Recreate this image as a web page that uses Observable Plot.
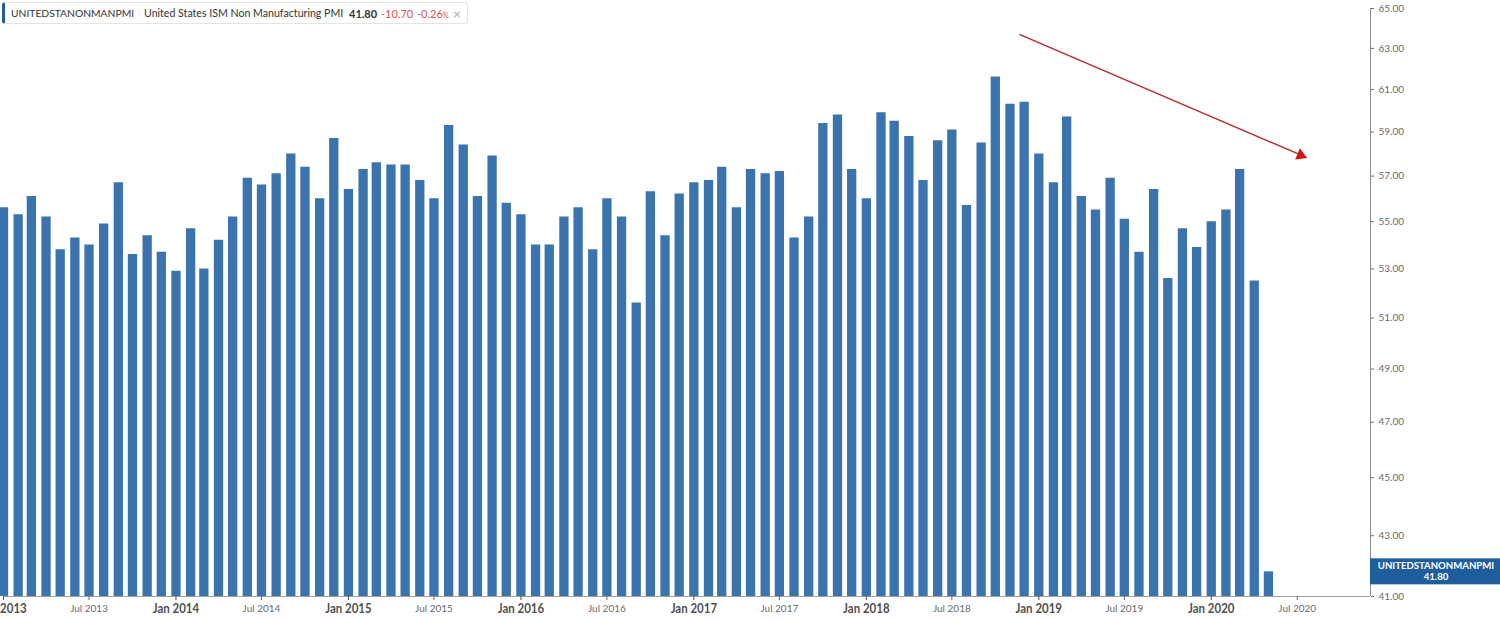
<!DOCTYPE html>
<html>
<head>
<meta charset="utf-8">
<script src="https://cdn.jsdelivr.net/npm/d3@7"></script>
<script src="https://cdn.jsdelivr.net/npm/@observablehq/plot@0.6"></script>
<style>
  html, body { margin: 0; padding: 0; background: #fff; overflow: hidden; }
  #wrap { position: relative; width: 1500px; height: 619px; }
  #legend { position: absolute; left: 2px; top: 2px; width: 462px; height: 20px;
    border: 1px solid #e4e4e4; border-left: 3px solid #1f5e9c; border-radius: 3px;
    background: #fff; font-family: Lato, sans-serif; font-size: 10.5px; color: #333; }
  #legend span { position: absolute; top: 0; line-height: 21px; white-space: nowrap; }
</style>
</head>
<body>
<div id="wrap">
  <div id="chart"></div>
  <div id="legend">
    <span style="left:6px;font-size:10.3px;">UNITEDSTANONMANPMI</span>
    <span style="left:139px;font-size:10.6px;">United States ISM Non Manufacturing PMI</span>
    <span style="left:344px;font-weight:bold;color:#333;font-size:11px;">41.80</span>
    <span style="left:376px;color:#d9534f;font-size:11px;">-10.70</span>
    <span style="left:412px;color:#d9534f;font-size:11px;">-0.26<small style="font-size:7.5px">%</small></span>
    <span style="left:448px;color:#aaa;font-size:14px;">×</span>
  </div>
</div>
<script>
// ---- data ----
const seriesCode = "UNITEDSTANONMANPMI";
const firstRelease = "2013-01-01"; // bars are plotted at their release month
const pmiValues = [
  55.6, 55.3, 56.1, 55.2, 53.8, 54.3, 54.0, 54.9, 56.7, 53.6, 54.4, 53.7,
  52.9, 54.7, 53.0, 54.2, 55.2, 56.9, 56.6, 57.1, 58.0, 57.4, 56.0, 58.7,
  56.4, 57.3, 57.6, 57.5, 57.5, 56.8, 56.0, 59.3, 58.4, 56.1, 57.9, 55.8,
  55.3, 54.0, 54.0, 55.2, 55.6, 53.8, 56.0, 55.2, 51.6, 56.3, 54.4, 56.2,
  56.7, 56.8, 57.4, 55.6, 57.3, 57.1, 57.2, 54.3, 55.2, 59.4, 59.8, 57.3,
  56.0, 59.9, 59.5, 58.8, 56.8, 58.6, 59.1, 55.7, 58.5, 61.6, 60.3, 60.4,
  58.0, 56.7, 59.7, 56.1, 55.5, 56.9, 55.1, 53.7, 56.4, 52.6, 54.7, 53.9,
  55.0, 55.5, 57.3, 52.5, 41.8
];
const yTickValues = [41, 43, 45, 47, 49, 51, 53, 55, 57, 59, 61, 63, 65];
const janTickYears = [2013, 2014, 2015, 2016, 2017, 2018, 2019, 2020];
const julTickYears = [2013, 2014, 2015, 2016, 2017, 2018, 2019, 2020];
const xDomain = ["2013-01-01", "2020-12-03"];
const yDomain = [41, 65];
const trendArrow = [{x1: "2018-11-21", y1: 63.7, x2: "2020-07-19", y2: 57.85}];

// ---- build ----
const start = new Date(firstRelease);
const data = pmiValues.map((v, i) => ({date: d3.utcMonth.offset(start, i), value: v}));
const janTicks = janTickYears.map(y => new Date(Date.UTC(y, 0, 1)));
const julTicks = julTickYears.map(y => new Date(Date.UTC(y, 6, 1)));
const arrows = trendArrow.map(a => ({x1: new Date(a.x1), y1: a.y1, x2: new Date(a.x2), y2: a.y2}));

const BAR = "#3b73ad";
const chart = Plot.plot({
  width: 1500,
  height: 619,
  marginLeft: 3,
  marginRight: 130,
  marginTop: 8,
  marginBottom: 23,
  style: {fontFamily: "Lato, sans-serif", fontSize: "10px", background: "white", overflow: "visible"},
  x: {type: "utc", domain: xDomain.map(d => new Date(d))},
  y: {type: "log", domain: yDomain},
  marks: [
    Plot.ruleX(data, {x: "date", y1: yDomain[0], y2: "value", stroke: BAR, strokeWidth: 9.3}),
    Plot.ruleY([yDomain[0]], {stroke: "#a0a0a0"}),
    Plot.ruleX([new Date(xDomain[1])], {stroke: "#8a8a8a"}),
    Plot.axisY({anchor: "right", ticks: yTickValues, tickFormat: d => d.toFixed(2),
      tickSize: 3, tickPadding: 5, fontSize: 10, color: "#6a6a6a", label: null}),
    Plot.axisX({ticks: janTicks, tickFormat: d => "Jan " + d.getUTCFullYear(),
      tickSize: 4, tickPadding: 3, fontSize: 14, fontWeight: "bold", color: "#505050", label: null}),
    Plot.axisX({ticks: julTicks, tickFormat: d => "Jul " + d.getUTCFullYear(),
      tickSize: 4, tickPadding: 4, fontSize: 10, color: "#6a6a6a", label: null}),
    Plot.link(arrows, {x1: "x1", y1: "y1", x2: "x2", y2: "y2", stroke: "#b02a2a", strokeWidth: 1.4}),
    Plot.dot(arrows, {x: "x2", y: "y2", symbol: "triangle", r: 4.5, fill: "#d01515",
      stroke: "none", rotate: 113, dx: -5, dy: -2})
  ]
});
document.getElementById("chart").appendChild(chart);

// condensed look for the bold January labels
d3.select(chart).selectAll("text").filter(function() {
  return this.textContent.startsWith("Jan ");
}).each(function() {
  const t = this.getAttribute("transform") || "";
  this.setAttribute("transform", t + " scale(0.82,1)");
});

// last-value badge on the right axis, placed with the chart's own y scale
const last = data[data.length - 1];
const yPos = chart.scale("y").apply(last.value);
const svg = d3.select(chart);
const g = svg.append("g");
g.append("rect").attr("x", 1370).attr("y", yPos - 13).attr("width", 130).attr("height", 26).attr("fill", "#1f5e9c");
g.append("text").attr("x", 1436).attr("y", yPos - 2.5).attr("text-anchor", "middle")
  .attr("fill", "#fff").attr("font-weight", "bold").attr("font-size", 9.6).text(seriesCode);
g.append("text").attr("x", 1436).attr("y", yPos + 9).attr("text-anchor", "middle")
  .attr("fill", "#fff").attr("font-weight", "bold").attr("font-size", 9.6).text(last.value.toFixed(2));
</script>
</body>
</html>
